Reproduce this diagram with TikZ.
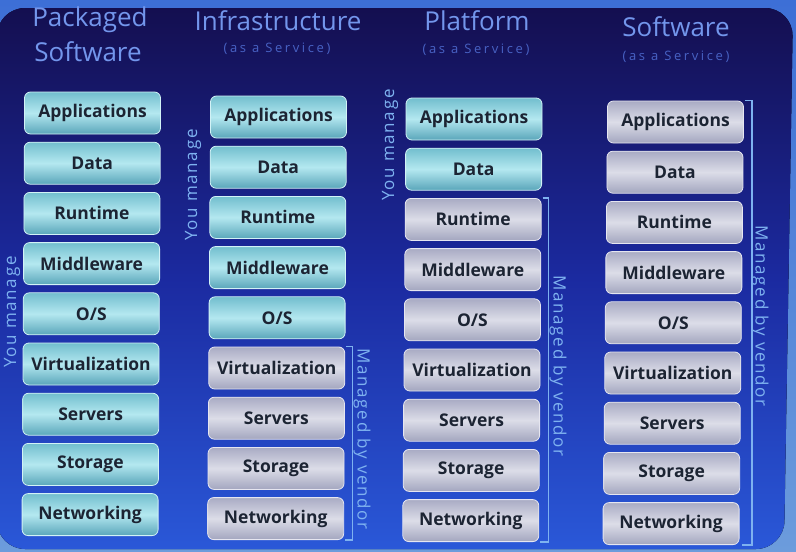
\documentclass[tikz,border=0pt]{standalone}
\usepackage{fontspec}
\setmainfont{Open Sans}
\usetikzlibrary{calc}
\definecolor{outtop}{HTML}{3D6FD6}
\definecolor{outbot}{HTML}{6C9CDC}
\definecolor{frametop}{HTML}{140F50}
\definecolor{framemid}{HTML}{1B2AA0}
\definecolor{framebot}{HTML}{2A58D8}
\definecolor{titleblue}{HTML}{7396EC}
\definecolor{subblue}{HTML}{4862C4}
\definecolor{lblblue}{HTML}{7EB2F0}
\definecolor{tealtop}{HTML}{72BECE}
\definecolor{tealmid}{HTML}{B4E8F0}
\definecolor{tealbot}{HTML}{5AA6BA}
\definecolor{tealedge}{HTML}{D2F2F6}
\definecolor{greytop}{HTML}{A9ABC4}
\definecolor{greymid}{HTML}{DCDDE8}
\definecolor{greybot}{HTML}{A3A6BF}
\definecolor{greyedge}{HTML}{E6E6F0}
\definecolor{boxtext}{HTML}{1C2433}
\begin{document}
\begin{tikzpicture}[x=1pt,y=-1pt,
  box/.style={rectangle, rounded corners=6pt, minimum width=136pt, minimum height=42pt,
    inner sep=0pt, font=\bfseries\fontsize{17.5}{20}\selectfont, text=boxtext},
  selfbox/.style={box, draw=tealedge, line width=0.8pt,
    top color=tealtop, bottom color=tealbot, middle color=tealmid},
  vendbox/.style={box, draw=greyedge, line width=0.8pt,
    top color=greytop, bottom color=greybot, middle color=greymid},
  title/.style={text=titleblue, font=\fontsize{26}{30}\selectfont, inner sep=0pt},
  sub/.style={text=subblue, font=\fontsize{13}{15}\selectfont\addfontfeature{LetterSpace=20}, inner sep=0pt},
  vlab/.style={text=lblblue, font=\fontsize{17}{20}\selectfont\addfontfeature{LetterSpace=10}, inner sep=0pt},
  bracket/.style={draw=lblblue, line width=1.2pt}
]
\useasboundingbox (0,0) rectangle (796,552);
% background outside the frame
\fill[top color=outtop, bottom color=outbot] (0,0) rectangle (796,552);
% dark frame
\fill[top color=frametop, bottom color=framebot, middle color=framemid, rounded corners=28pt]
  (-3,8) -- (793,8) -- (784,549) -- (-3,549) -- cycle;

% titles
\node[title] (t1a) at (90,20) {Packaged};
\node[title] (t1b) at (88,52) {Software};
\node[title] (t2) at (278,21) {Infrastructure};
\node[sub] (s2) at (277,49) {(as a Service)};
\node[title] (t3) at (477,21) {Platform};
\node[sub] (s3) at (476,50) {(as a Service)};
\node[title] (t4) at (676,27) {Software};
\node[sub] (s4) at (676,57) {(as a Service)};

% boxes
\foreach \c/\xc/\yt/\nt/\k in {1/92.5/92/9/0.3, 2/278.5/96/5/0.35, 3/474/98/2/0.4, 4/675.5/101/0/0.55}{
  \foreach \lab [count=\r] in {Applications,Data,Runtime,Middleware,{O/S},Virtualization,Servers,Storage,Networking}{
    \pgfmathsetmacro{\bx}{\xc-\k*(\r-1)}
    \pgfmathsetmacro{\by}{\yt+21+50.2*(\r-1)}
    \ifnum\r>\nt
      \node[vendbox] (c\c r\r) at (\bx,\by) {\lab};
    \else
      \node[selfbox] (c\c r\r) at (\bx,\by) {\lab};
    \fi
  }
}

% "You manage" labels
\node[vlab, rotate=90] (ym1) at (12,312) {You manage};
\node[vlab, rotate=90] (ym2) at (193,185) {You manage};
\node[vlab, rotate=90] (ym3) at (390,145) {You manage};

% "Managed by vendor" labels and brackets
\node[vlab, rotate=-90] (mv2) at (362,439) {Managed by vendor};
\node[vlab, rotate=-90] (mv3) at (558,366) {Managed by vendor};
\node[vlab, rotate=-90] (mv4) at (760,316) {Managed by vendor};

\draw[bracket] ([xshift=1pt]c2r6.north east) -- ++(6,0) |- ([xshift=1pt]c2r9.south east);
\draw[bracket] ([xshift=1pt]c3r3.north east) -- ++(6,0) |- ([xshift=1pt]c3r9.south east);
\draw[bracket] ([xshift=1pt]c4r1.north east) -- ++(7,0) |- ([xshift=2pt]c4r9.south east);
\end{tikzpicture}
\end{document}
